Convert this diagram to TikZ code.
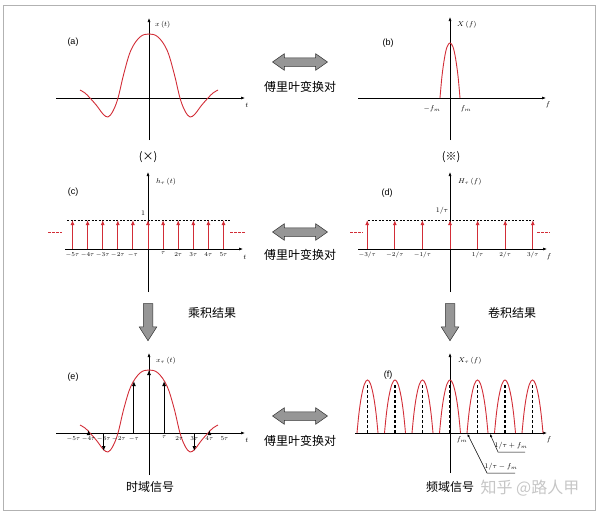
\documentclass[tikz,border=0pt]{standalone}
\usepackage{fontspec}
\setsansfont{Liberation Sans}
\newfontfamily\cjk{Noto Sans CJK SC}
\usetikzlibrary{arrows.meta,positioning,calc,shapes.arrows}

\definecolor{sigred}{RGB}{210,45,55}
\definecolor{arrgray}{RGB}{150,150,150}

\tikzset{
  axis/.style={-{Latex[length=4pt,width=3pt]}, line width=0.6pt},
  sig/.style={sigred, line width=0.9pt},
  impulse/.style={sigred, line width=1pt, -{Latex[length=5pt,width=4pt]}},
  sample/.style={black, line width=1pt, -{Latex[length=5pt,width=4pt]}},
  level/.style={black, line width=0.5pt, dash pattern=on 2pt off 1.5pt},
  reddash/.style={sigred, line width=1pt, dash pattern=on 2.5pt off 1.5pt},
  lbl/.style={font=\fontsize{7}{8}\selectfont, inner sep=1pt},
  tick/.style={font=\fontsize{6.5}{7}\selectfont, inner sep=1pt, anchor=north},
  panel/.style={font=\sffamily\fontsize{9}{10}\selectfont, inner sep=1pt},
  cn/.style={font=\cjk\fontsize{12}{14}\selectfont, inner sep=1pt},
  pairarrow/.style={double arrow, draw=gray!40!black, fill=arrgray, line width=0.5pt,
    minimum height=55pt, inner sep=4pt, double arrow head extend=4pt, double arrow tip angle=70},
  downarrow/.style={single arrow, draw=gray!40!black, fill=arrgray, line width=0.5pt, rotate=-90,
    minimum height=37pt, inner sep=4.5pt, single arrow head extend=4pt, single arrow tip angle=65},
}

\begin{document}
\begin{tikzpicture}[x=1pt,y=-1pt]
\useasboundingbox (0,0) rectangle (600,517);
\draw[gray!60, line width=1pt] (3,5) rectangle (595,510);

% (a) time signal
\begin{scope}[shift={(149,98)},yscale=-1]
  \draw[axis] (-93,0) -- (96,0);
  \draw[axis] (0,-42) -- (0,80);
  \node[lbl] (ta) at (98,-7) {$t$};
  \node[lbl, anchor=west] (xa) at (5,73) {$x\,(t)$};
  \node[panel] (pa) at (-76,56) {(a)};
  \draw[sig] plot [smooth, tension=0.6] coordinates { (-69,8) (-64,5) (-59,0) (-52,-8) (-46,-16) (-41,-19) (-36,-13) (-31,0) (-25,25) (-18,48) (-9,61) (0,64) (9,61) (18,48) (25,25) (31,0) (36,-13) (41,-19) (46,-16) (52,-8) (59,0) (64,5) (69,8)};
\end{scope}

% (b) spectrum
\begin{scope}[shift={(450,98)},yscale=-1]
  \draw[axis] (-92,0) -- (96,0);
  \draw[axis] (0,-42) -- (0,81);
  \node[lbl] (fb) at (98,-7) {$f$};
  \node[lbl, anchor=west] (xb) at (6,73) {$X\,(f)$};
  \node[panel] (pb) at (-62,55) {(b)};
  \node[lbl] (fmb1) at (-18,-11) {$-f_m$};
  \node[lbl] (fmb2) at (16,-11) {$f_m$};
  \draw[sig] plot [smooth, tension=0.6] coordinates { (-10,0) (-8,22) (-5.5,40) (-3,51) (0,55) (3,51) (5.5,40) (8,22) (10,0)};
\end{scope}

\node[pairarrow] (pair1) at (300,62) {};
\node[cn] (ft1) at (300,87) {傅里叶变换对};

\node[cn, font=\cjk\fontsize{11}{12}\selectfont] (mulmark) at (148,157) {(×)};
\node[cn, font=\cjk\fontsize{11}{12}\selectfont] (convmark) at (451,157) {(※)};

% (c) impulse train
\begin{scope}[shift={(148,249)},yscale=-1]
  \draw[axis] (-83,0) -- (95,0);
  \draw[axis] (0,-43) -- (0,77);
  \node[lbl] (tc) at (97,-8) {$t$};
  \node[lbl, anchor=west] (hc) at (7,67) {$h_\tau\,(t)$};
  \node[panel] (pc) at (-75,57) {(c)};
  \node[lbl] (onec) at (-5,36) {1};
  \draw[level] (-81,29) -- (82,29);
  \foreach \k in {-5,...,5}
    \draw[impulse] (15.1*\k,0) -- (15.1*\k,29);
  \draw[reddash] (-100,17) -- (-86,17);
  \draw[reddash] (82,17) -- (97,17);
  \foreach \k/\s in {-5/-5\tau,-4/-4\tau,-3/-3\tau,-2/-2\tau,-1/-\tau,1/\tau,2/2\tau,3/3\tau,4/4\tau,5/5\tau}
    \node[tick] (tc\k) at (15.1*\k,-2) {$\s$};
\end{scope}

% (d) spectrum of impulse train
\begin{scope}[shift={(450,249)},yscale=-1]
  \draw[axis] (-92,0) -- (97,0);
  \draw[axis] (0,-43) -- (0,77);
  \node[lbl] (fd) at (99,-8) {$f$};
  \node[lbl, anchor=west] (hd) at (7,67) {$H_\tau\,(f)$};
  \node[panel] (pd) at (-63,56) {(d)};
  \node[lbl] (oned) at (-8,38) {$1/\tau$};
  \draw[level] (-82,29) -- (84,29);
  \foreach \k in {-3,...,3}
    \draw[impulse] (27.6*\k,0) -- (27.6*\k,29);
  \draw[reddash] (-100,17) -- (-87,17);
  \draw[reddash] (87,17) -- (100,17);
  \foreach \k/\s in {-3/{-3/\tau},-2/{-2/\tau},-1/{-1/\tau},1/{1/\tau},2/{2/\tau},3/{3/\tau}}
    \node[tick] (td\k) at (27.6*\k,-2) {$\s$};
\end{scope}

\node[pairarrow] (pair2) at (300,232) {};
\node[cn] (ft2) at (300,255) {傅里叶变换对};

\node[downarrow] (down1) at (148,318.5) {};
\node[cn] (mul) at (212,313) {乘积结果};
\node[downarrow] (down2) at (450,318.5) {};
\node[cn] (conv) at (512,313) {卷积结果};

% (e) sampled signal
\begin{scope}[shift={(149,433)},yscale=-1]
  \draw[axis] (-93,0) -- (96,0);
  \draw[axis] (0,-42) -- (0,80);
  \node[lbl] (te) at (98,-7) {$t$};
  \node[lbl, anchor=west] (xe) at (6,72) {$x_\tau\,(t)$};
  \node[panel] (pe) at (-76,56) {(e)};
  \draw[sig] plot [smooth, tension=0.6] coordinates { (-69,8) (-64,5) (-59,0) (-52,-8) (-46,-16) (-41,-19) (-36,-13) (-31,0) (-25,25) (-18,47) (-9,60) (0,63) (9,60) (18,47) (25,25) (31,0) (36,-13) (41,-19) (46,-16) (52,-8) (59,0) (64,5) (69,8)};
  \foreach \k/\h in {-4/3,-3/-18,-1/52,0/63,1/52,3/-18,4/3}
    \draw[sample] (15.1*\k,0) -- (15.1*\k,\h);
  \foreach \k/\s in {-5/-5\tau,-4/-4\tau,-3/-3\tau,-2/-2\tau,-1/-\tau,1/\tau,2/2\tau,3/3\tau,4/4\tau,5/5\tau}
    \node[tick] (te\k) at (15.1*\k,-2) {$\s$};
  \node[cn] (timesig) at (1,-54) {时域信号};
\end{scope}

% (f) spectrum of sampled signal
\begin{scope}[shift={(450,433)},yscale=-1]
  \draw[axis] (-95,0) -- (97,0);
  \draw[axis] (0,-40) -- (0,80);
  \node[lbl] (ff) at (99,-7) {$f$};
  \node[lbl, anchor=west] (xf) at (7,72) {$X_\tau\,(f)$};
  \node[panel] (pf) at (-62,58) {(f)};
  \foreach \k in {-3,...,3} {
    \draw[sig, shift={(27.5*\k,0)}] plot [smooth, tension=0.6] coordinates { (-10.5,0) (-8.5,20) (-6,37) (-3,49) (0,53) (3,49) (6,37) (8.5,20) (10.5,0)};
    \draw[black, line width=1.3pt, dash pattern=on 3pt off 2pt] (27.5*\k,0) -- (27.5*\k,48);
  }
  \node[lbl] (fmf) at (12,-7) {$f_m$};
  \coordinate (lo) at (17.5,-1);
  \coordinate (lobend) at (37,-40);
  \coordinate (loend) at (65,-40);
  \node[lbl] (lolbl) at (51,-34) {$1/\tau-f_m$};
  \draw[line width=0.5pt, {Latex[length=3pt,width=2.5pt]}-] (lo) -- (lobend) -- (loend);
  \coordinate (hi) at (40,-1);
  \coordinate (hibend) at (48,-19);
  \coordinate (hiend) at (75,-19);
  \node[lbl] (hilbl) at (61,-13) {$1/\tau+f_m$};
  \draw[line width=0.5pt, {Latex[length=3pt,width=2.5pt]}-] (hi) -- (hibend) -- (hiend);
  \node[cn] (freqsig) at (0,-54) {频域信号};
\end{scope}

\node[pairarrow] (pair3) at (300,416) {};
\node[cn] (ft3) at (300,441) {傅里叶变换对};

\node[cn, font=\cjk\fontsize{16}{18}\selectfont, text=gray!45] (mark) at (530,488) {知乎 @路人甲};
\end{tikzpicture}
\end{document}
